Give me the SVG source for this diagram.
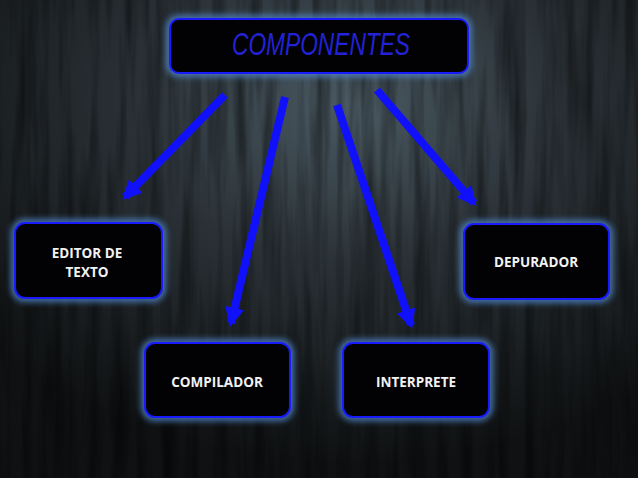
<svg xmlns="http://www.w3.org/2000/svg" width="638" height="478" viewBox="0 0 638 478">
<defs>
<radialGradient id="bg" cx="0.55" cy="0.22" r="0.75">
<stop offset="0" stop-color="#4a5962"/>
<stop offset="0.45" stop-color="#2a3136"/>
<stop offset="1" stop-color="#0f1112"/>
</radialGradient>
<filter id="tex" x="0" y="0" width="100%" height="100%">
<feTurbulence type="fractalNoise" baseFrequency="0.08 0.006" numOctaves="3" seed="4"/>
<feColorMatrix type="matrix" values="0 0 0 0 0  0 0 0 0 0  0 0 0 0 0  0 0 0 1.4 -0.55"/>
</filter>
<filter id="glow" x="-20%" y="-30%" width="140%" height="160%">
<feGaussianBlur stdDeviation="3"/>
</filter>
<marker id="ah" viewBox="0 0 10 10" refX="8" refY="5" markerWidth="2.4" markerHeight="2.4" orient="auto" markerUnits="strokeWidth">
<path d="M0,0 L10,5 L0,10 z" fill="#1010fa"/>
</marker>
<style>
.halo{fill:none;stroke:#4f86c8;stroke-width:8;opacity:0.85}
.box{fill:#020204;stroke:#1a1aff;stroke-width:2}
.lbl{font-family:"Open Sans","Liberation Sans",sans-serif;font-weight:bold;font-size:13.5px;fill:#f2f2f2;text-anchor:middle}
.arr{stroke:#1010fa;stroke-width:8;fill:none;marker-end:url(#ah)}
</style>
</defs>
<rect width="638" height="478" fill="url(#bg)"/>
<rect width="638" height="478" filter="url(#tex)" opacity="0.7"/>
<g id="connectors">
<line class="arr" x1="225" y1="95" x2="125" y2="197"/>
<line class="arr" x1="285" y1="97" x2="231" y2="323"/>
<line class="arr" x1="337" y1="105" x2="411" y2="325"/>
<line class="arr" x1="377" y1="90" x2="474" y2="203"/>
</g>
<g id="componentes">
<rect class="halo" x="170" y="19" width="298" height="54" rx="9" filter="url(#glow)"/>
<rect class="box" x="170" y="19" width="298" height="54" rx="9"/>
<text x="321" y="55" font-family="'Liberation Sans Narrow','Liberation Sans',sans-serif" font-style="italic" font-size="31" fill="#2222d8" text-anchor="middle" textLength="178" lengthAdjust="spacingAndGlyphs">COMPONENTES</text>
</g>
<g id="editor">
<rect class="halo" x="15" y="223" width="147" height="75" rx="10" filter="url(#glow)"/>
<rect class="box" x="15" y="223" width="147" height="75" rx="10"/>
<text class="lbl" x="87" y="258">EDITOR DE</text>
<text class="lbl" x="87" y="277">TEXTO</text>
</g>
<g id="depurador">
<rect class="halo" x="464" y="224" width="145" height="75" rx="10" filter="url(#glow)"/>
<rect class="box" x="464" y="224" width="145" height="75" rx="10"/>
<text class="lbl" x="536" y="267">DEPURADOR</text>
</g>
<g id="compilador">
<rect class="halo" x="145" y="343" width="145" height="74" rx="10" filter="url(#glow)"/>
<rect class="box" x="145" y="343" width="145" height="74" rx="10"/>
<text class="lbl" x="217" y="387">COMPILADOR</text>
</g>
<g id="interprete">
<rect class="halo" x="343" y="343" width="146" height="74" rx="10" filter="url(#glow)"/>
<rect class="box" x="343" y="343" width="146" height="74" rx="10"/>
<text class="lbl" x="416" y="387">INTERPRETE</text>
</g>
</svg>
